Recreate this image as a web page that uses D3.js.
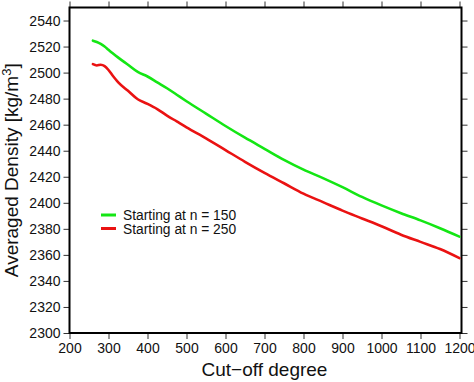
<!DOCTYPE html>
<html>
<head>
<meta charset="utf-8">
<script src="https://cdn.jsdelivr.net/npm/d3@7"></script>
<style>
  html, body { margin: 0; padding: 0; background: #fff; }
  svg { display: block; font-family: "Liberation Sans", Arial, Helvetica, sans-serif; }
</style>
</head>
<body>
<svg id="chart" width="474" height="382"></svg>
<script>
// ---- data ----
const degrees = [260, 270, 280, 290, 300, 310, 325, 350, 375, 400, 425, 450, 475, 500,
                 550, 600, 650, 700, 750, 800, 850, 900, 950, 1000, 1050, 1100, 1150, 1200];
const start150 = [2524.5, 2523.5, 2522, 2520, 2517.5, 2515, 2511.5, 2506, 2500.5, 2497, 2492.5, 2488, 2483, 2478,
                  2468.5, 2459, 2450, 2441.5, 2433, 2425.5, 2419, 2412, 2404.5, 2398, 2392, 2386.5, 2380.5, 2374];
const start250 = [2506.5, 2505.5, 2506, 2505, 2502, 2498, 2492.5, 2486, 2479.5, 2476, 2472, 2467, 2462.5, 2458,
                  2449.5, 2440.5, 2431.5, 2423, 2415, 2407, 2400.5, 2394, 2388, 2382, 2375.5, 2370, 2364.5, 2357.5];
const seriesNames = ["Starting at n = 150", "Starting at n = 250"];
const xTicks = [200, 300, 400, 500, 600, 700, 800, 900, 1000, 1100, 1200];
const yTicks = [2300, 2320, 2340, 2360, 2380, 2400, 2420, 2440, 2460, 2480, 2500, 2520, 2540];
const xTitle = "Cut\u2212off degree";

// ---- layout ----
const svg = d3.select("#chart");
const L = 69.5, R = 459.5, T = 7.5, B = 333;
const x = d3.scaleLinear().domain([200, 1200]).range([L, R]);
const y = d3.scaleLinear().domain([2300, 2550]).range([B, T]);
const colors = ["#14e614", "#ea1212"];

// axes with outward ticks
const axisStyle = g => {
  g.select(".domain").remove();
  g.selectAll(".tick line").attr("stroke", "#333").attr("stroke-width", 1);
  g.selectAll(".tick text").attr("font-size", 14).attr("fill", "#111")
    .attr("font-family", "'Liberation Sans', Arial, sans-serif");
};
svg.append("g").attr("transform", `translate(0,${B})`)
  .call(d3.axisBottom(x).tickValues(xTicks).tickSize(6).tickPadding(4).tickFormat(d3.format("d")))
  .call(axisStyle);
svg.append("g").attr("transform", `translate(0,${T})`)
  .call(d3.axisTop(x).tickValues(xTicks).tickSize(6).tickFormat(""))
  .call(axisStyle);
svg.append("g").attr("transform", `translate(${L},0)`)
  .call(d3.axisLeft(y).tickValues(yTicks).tickSize(6).tickPadding(3).tickFormat(d3.format("d")))
  .call(axisStyle);
svg.append("g").attr("transform", `translate(${R + 2},0)`)
  .call(d3.axisRight(y).tickValues(yTicks).tickSize(6).tickFormat(""))
  .call(axisStyle);

// frame
svg.append("rect")
  .attr("x", L).attr("y", T)
  .attr("width", R + 2 - L).attr("height", B - T)
  .attr("fill", "none").attr("stroke", "#000").attr("stroke-width", 2);

// lines
const line = d3.line().x(d => x(d[0])).y(d => y(d[1])).curve(d3.curveMonotoneX);
[start150, start250].forEach((vals, i) => {
  svg.append("path")
    .datum(degrees.map((d, j) => [d, vals[j]]))
    .attr("d", line)
    .attr("fill", "none")
    .attr("stroke", colors[i])
    .attr("stroke-width", 2.6)
    .attr("stroke-linejoin", "round")
    .attr("stroke-linecap", "round");
});

// legend
const leg = svg.append("g");
seriesNames.forEach((name, i) => {
  const ly = 215 + i * 13.5;
  leg.append("line").attr("x1", 101).attr("x2", 116).attr("y1", ly).attr("y2", ly)
    .attr("stroke", colors[i]).attr("stroke-width", 3);
  leg.append("text").attr("x", 123).attr("y", ly + 5)
    .attr("font-size", 13.8).attr("fill", "#111").text(name);
});

// axis titles
svg.append("text").attr("x", (L + R) / 2).attr("y", 376)
  .attr("text-anchor", "middle").attr("font-size", 19).attr("fill", "#111").text(xTitle);

const yt = svg.append("text")
  .attr("transform", `translate(18,${(T + B) / 2}) rotate(-90)`)
  .attr("text-anchor", "middle").attr("font-size", 19).attr("fill", "#111");
yt.append("tspan").text("Averaged Density [kg/m");
yt.append("tspan").attr("font-size", 13).attr("dy", -7).text("3");
yt.append("tspan").attr("dy", 7).text("]");
</script>
</body>
</html>
